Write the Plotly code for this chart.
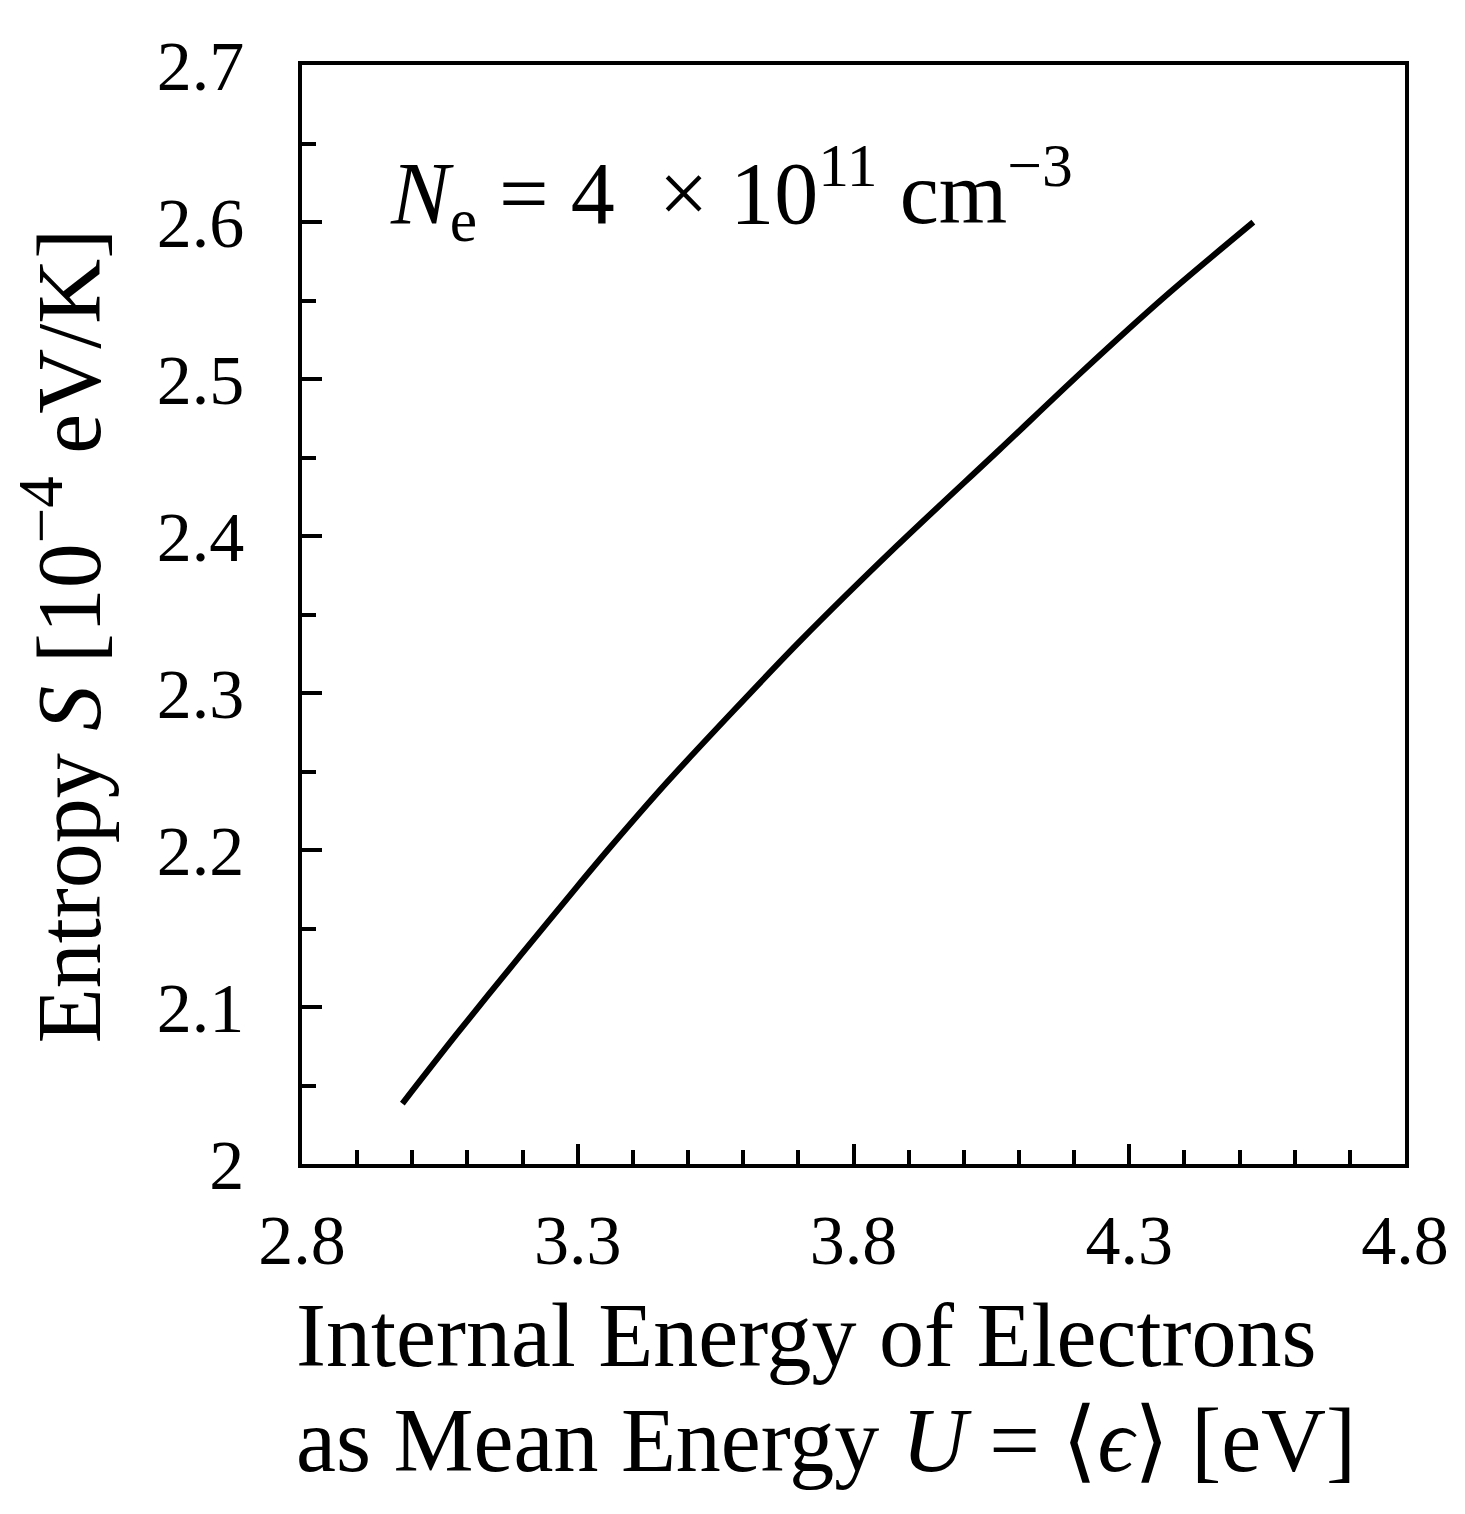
import plotly.graph_objects as go

# mean energy U [eV] and entropy S [1e-4 eV/K]
energy_u = [2.982, 3.080, 3.195, 3.297, 3.358, 3.461, 3.582, 3.703, 3.878, 4.065, 4.216, 4.368, 4.525]
entropy_s = [2.0385, 2.0825, 2.1324, 2.1759, 2.2014, 2.2428, 2.2885, 2.3330, 2.3935, 2.4551, 2.5052, 2.5535, 2.5999]

x_ticks = [2.8, 3.3, 3.8, 4.3, 4.8]
y_ticks = [2, 2.1, 2.2, 2.3, 2.4, 2.5, 2.6, 2.7]
y_tick_text = ["2", "2.1", "2.2", "2.3", "2.4", "2.5", "2.6", "2.7"]

serif = "Liberation Serif, Times New Roman, serif"

fig = go.Figure()
fig.add_trace(go.Scatter(
    x=energy_u, y=entropy_s, mode="lines",
    line=dict(color="black", width=6, shape="spline", smoothing=0.8),
    showlegend=False,
))

fig.update_xaxes(
    range=[2.8, 4.8], tickvals=x_ticks, ticktext=[str(v) for v in x_ticks],
    ticks="inside", ticklen=20, tickwidth=3.5, tickcolor="black",
    minor=dict(dtick=0.1, tick0=2.8, ticks="inside", ticklen=14, tickwidth=3.5, tickcolor="black"),
    showline=True, linewidth=3.5, linecolor="black", mirror=True,
    showgrid=False, zeroline=False, ticklabelstandoff=12,
    tickfont=dict(family=serif, size=70, color="black"),
)
fig.update_yaxes(
    range=[2.0, 2.7], tickvals=y_ticks, ticktext=y_tick_text,
    ticks="inside", ticklen=20, tickwidth=3.5, tickcolor="black",
    minor=dict(dtick=0.05, tick0=2.0, ticks="inside", ticklen=14, tickwidth=3.5, tickcolor="black"),
    showline=True, linewidth=3.5, linecolor="black", mirror=True,
    showgrid=False, zeroline=False, ticklabelstandoff=40,
    tickfont=dict(family=serif, size=70, color="black"),
)

fig.add_annotation(
    x=0.078, y=0.884, xref="paper", yref="paper", xanchor="left", yanchor="middle",
    text="<i>N</i><sub>e</sub> = 4  × 10<sup>11</sup> cm<sup>−3</sup>",
    showarrow=False, font=dict(family=serif, size=88, color="black"),
)
# axis titles as annotations so the x title can be left aligned on two lines
fig.add_annotation(
    x=-0.0068, y=-0.156, xref="paper", yref="paper", xanchor="left", yanchor="middle",
    text="Internal Energy of Electrons",
    showarrow=False, font=dict(family=serif, size=90, color="black"),
)
fig.add_annotation(
    x=-0.0068, y=-0.2515, xref="paper", yref="paper", xanchor="left", yanchor="middle",
    text="as Mean Energy <i>U</i> = ⟨<i>ϵ</i>⟩ [eV]",
    showarrow=False, font=dict(family=serif, size=90, color="black"),
)
fig.add_annotation(
    x=-0.217, y=0.48, xref="paper", yref="paper", xanchor="center", yanchor="middle",
    text="Entropy <i>S</i> [10<sup>−4</sup> eV/K]", textangle=-90,
    showarrow=False, font=dict(family=serif, size=90, color="black"),
)

fig.update_layout(
    width=1465, height=1514,
    margin=dict(l=294, r=68, t=57, b=358),
    plot_bgcolor="white", paper_bgcolor="white",
)

fig.write_html("out.html")
